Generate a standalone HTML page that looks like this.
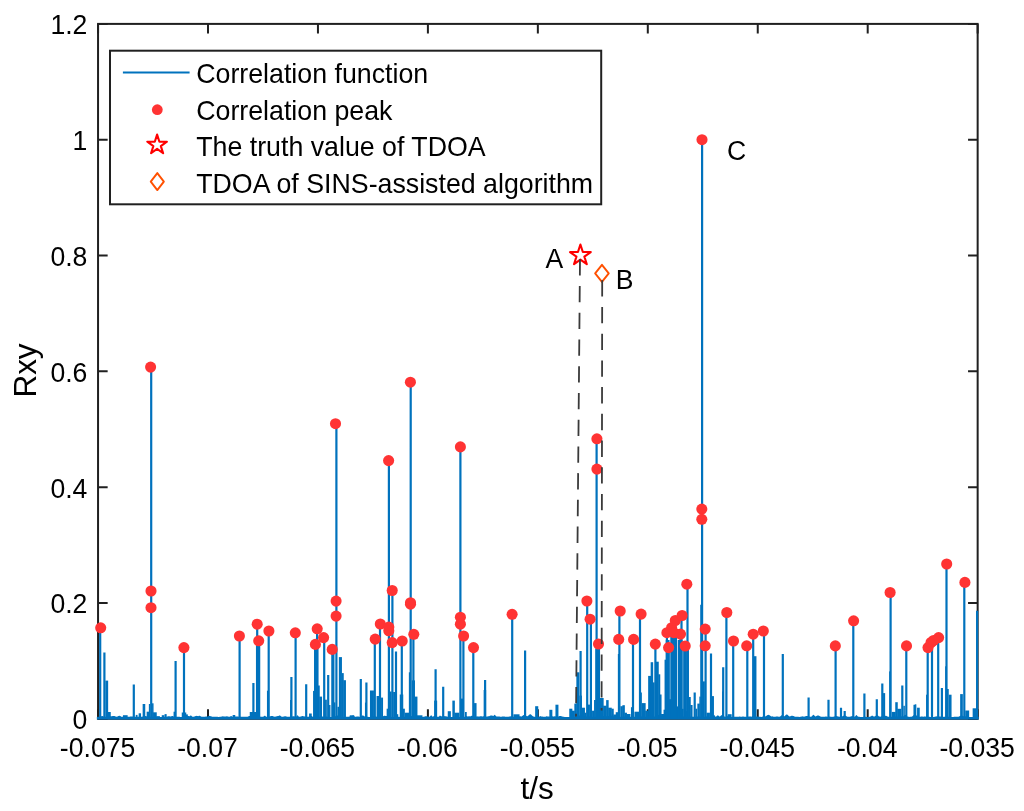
<!DOCTYPE html><html><head><meta charset="utf-8"><style>html,body{margin:0;padding:0;background:#fff;}svg{display:block}text{font-family:"Liberation Sans",Arial,sans-serif;fill:#000}</style></head><body>
<svg width="1024" height="811" viewBox="0 0 1024 811">
<rect width="1024" height="811" fill="#fff"/>
<g stroke="#202020" stroke-width="2" fill="none">
<rect x="98.05" y="23.90" width="879.60" height="694.90"/>
<path d="M98.05 718.80V709.20M98.05 23.90V33.50"/>
<path d="M208.00 718.80V709.20M208.00 23.90V33.50"/>
<path d="M317.95 718.80V709.20M317.95 23.90V33.50"/>
<path d="M427.90 718.80V709.20M427.90 23.90V33.50"/>
<path d="M537.85 718.80V709.20M537.85 23.90V33.50"/>
<path d="M647.80 718.80V709.20M647.80 23.90V33.50"/>
<path d="M757.75 718.80V709.20M757.75 23.90V33.50"/>
<path d="M867.70 718.80V709.20M867.70 23.90V33.50"/>
<path d="M977.65 718.80V709.20M977.65 23.90V33.50"/>
<path d="M98.05 718.80H107.65M977.65 718.80H968.05"/>
<path d="M98.05 602.98H107.65M977.65 602.98H968.05"/>
<path d="M98.05 487.17H107.65M977.65 487.17H968.05"/>
<path d="M98.05 371.35H107.65M977.65 371.35H968.05"/>
<path d="M98.05 255.53H107.65M977.65 255.53H968.05"/>
<path d="M98.05 139.72H107.65M977.65 139.72H968.05"/>
<path d="M98.05 23.90H107.65M977.65 23.90H968.05"/>
</g>
<g clip-path="url(#clip)">
<defs><clipPath id="clip"><rect x="96.85" y="23.90" width="882.00" height="695.90"/></clipPath></defs>
<polygon points="96.0,716.90 96.5,716.89 97.0,716.88 97.5,716.85 98.0,716.81 98.5,716.74 99.0,716.65 99.5,716.54 100.0,716.44 100.5,716.37 101.0,716.35 101.5,716.29 102.0,716.09 102.5,716.06 103.0,716.20 103.5,716.43 104.0,716.48 104.5,716.57 105.0,716.67 105.5,716.75 106.0,716.81 106.5,716.79 107.0,716.67 107.5,716.54 108.0,716.27 108.5,715.80 109.0,715.68 109.5,716.05 110.0,716.29 110.5,716.19 111.0,716.15 111.5,716.18 112.0,716.19 112.5,716.04 113.0,715.94 113.5,715.92 114.0,715.97 114.5,716.10 115.0,716.26 115.5,716.43 116.0,716.58 116.5,716.70 117.0,716.77 117.5,716.55 118.0,716.31 118.5,716.15 119.0,715.77 119.5,715.70 120.0,716.00 120.5,716.42 121.0,716.72 121.5,716.70 122.0,716.70 122.5,716.73 123.0,716.74 123.5,716.65 124.0,716.55 124.5,716.46 125.0,716.40 125.5,716.40 126.0,716.46 126.5,716.55 127.0,716.65 127.5,716.74 128.1,716.81 128.6,716.85 129.1,716.82 129.6,716.68 130.1,716.54 130.6,716.49 131.1,716.59 131.6,716.56 132.1,716.47 132.6,716.44 133.1,716.48 133.6,716.57 134.1,716.68 134.6,716.77 135.1,716.84 135.6,716.87 136.1,716.86 136.6,716.83 137.1,716.79 137.6,716.75 138.1,716.71 138.6,716.68 139.1,716.67 139.6,716.68 140.1,716.68 140.6,716.62 141.1,716.70 141.6,716.78 142.1,716.70 142.6,716.58 143.1,716.42 143.6,716.25 144.1,716.10 144.6,715.99 145.1,715.96 145.6,716.01 146.1,716.13 146.6,716.29 147.1,716.45 147.6,716.60 148.1,716.72 148.6,716.61 149.1,716.53 149.6,716.50 150.1,716.55 150.6,716.65 151.1,716.75 151.6,716.82 152.1,716.72 152.6,716.65 153.1,716.69 153.6,716.79 154.1,716.85 154.6,716.77 155.1,716.73 155.6,716.79 156.1,716.85 156.6,716.80 157.1,716.75 157.6,716.76 158.1,716.80 158.6,716.85 159.1,716.89 159.6,716.90 160.1,716.90 160.6,716.90 161.1,716.90 161.6,716.90 162.1,716.90 162.6,716.90 163.1,716.90 163.6,716.90 164.1,716.89 164.6,716.88 165.1,716.86 165.6,716.82 166.1,716.76 166.6,716.67 167.1,716.56 167.6,716.44 168.1,716.33 168.6,716.26 169.1,716.24 169.6,716.29 170.1,716.38 170.6,716.46 171.1,716.31 171.6,716.14 172.1,716.05 172.6,716.07 173.1,716.20 173.6,716.39 174.1,716.58 174.6,716.73 175.1,716.77 175.6,716.70 176.1,716.76 176.6,716.85 177.1,716.78 177.6,716.69 178.1,716.63 178.6,716.65 179.1,716.74 179.6,716.82 180.1,716.88 180.6,716.89 181.1,716.90 181.6,716.90 182.1,716.90 182.6,716.90 183.1,716.90 183.6,716.89 184.1,716.84 184.6,716.71 185.1,716.46 185.6,716.21 186.1,716.16 186.6,716.35 187.1,716.23 187.6,715.92 188.1,715.91 188.6,715.99 189.1,716.22 189.6,716.28 190.1,715.77 190.6,715.45 191.1,715.59 191.6,716.06 192.1,716.52 192.6,716.72 193.1,716.78 193.6,716.74 194.1,716.62 194.6,716.45 195.1,716.25 195.6,716.05 196.1,715.91 196.6,715.86 197.1,715.91 197.6,716.06 198.1,716.26 198.6,716.02 199.1,715.86 199.6,715.87 200.1,716.04 200.6,716.30 201.1,716.54 201.6,716.72 202.1,716.83 202.6,716.87 203.1,716.85 203.6,716.81 204.1,716.75 204.6,716.69 205.1,716.63 205.6,716.58 206.1,716.56 206.6,716.58 207.1,716.62 207.6,716.60 208.1,716.25 208.6,715.89 209.1,715.80 209.6,716.05 210.1,716.11 210.6,716.19 211.1,716.37 211.6,716.58 212.1,716.74 212.6,716.76 213.1,716.80 213.6,716.79 214.1,716.76 214.6,716.75 215.1,716.76 215.6,716.77 216.1,716.80 216.6,716.83 217.1,716.85 217.6,716.87 218.1,716.89 218.6,716.89 219.1,716.89 219.6,716.87 220.1,716.84 220.6,716.76 221.1,716.65 221.6,716.52 222.1,716.38 222.6,716.30 223.1,716.30 223.6,716.39 224.1,716.52 224.6,716.56 225.1,716.55 225.6,716.58 226.1,716.47 226.6,716.35 227.1,716.35 227.6,716.46 228.1,716.62 228.6,716.76 229.1,716.80 229.6,716.77 230.1,716.54 230.6,716.22 231.1,716.08 231.6,716.27 232.1,716.60 232.6,716.75 233.1,716.66 233.6,716.57 234.1,716.49 234.6,716.45 235.1,716.47 235.6,716.53 236.1,716.52 236.6,716.50 237.1,716.51 237.6,716.55 238.1,716.61 238.6,716.68 239.1,716.61 239.6,716.56 240.1,716.59 240.6,716.69 241.1,716.79 241.6,716.74 242.1,716.71 242.6,716.74 243.1,716.80 243.6,716.78 244.1,716.75 244.6,716.72 245.1,716.70 245.6,716.71 246.1,716.72 246.6,716.76 247.1,716.79 247.6,716.69 248.1,716.52 248.6,716.31 249.1,716.12 249.6,716.03 250.1,716.07 250.6,716.23 251.1,716.44 251.6,716.63 252.1,716.77 252.6,716.77 253.1,716.69 253.6,716.59 254.1,716.49 254.6,716.41 255.1,716.38 255.6,716.41 256.1,716.48 256.6,716.58 257.1,716.68 257.6,716.69 258.1,716.61 258.6,716.54 259.1,716.51 259.6,716.53 260.1,716.60 260.6,716.69 261.1,716.77 261.6,716.83 262.1,716.82 262.6,716.81 263.1,716.81 263.6,716.58 264.1,716.08 264.6,715.66 265.1,715.79 265.6,716.31 266.1,716.71 266.6,716.85 267.1,716.87 267.6,716.84 268.1,716.79 268.6,716.71 269.1,716.59 269.6,716.45 270.1,716.29 270.6,716.14 271.1,716.03 271.6,715.98 272.1,716.00 272.6,716.10 273.1,716.24 273.6,716.40 274.1,716.55 274.6,716.67 275.1,716.72 275.6,716.60 276.1,716.45 276.6,716.29 277.1,716.15 277.6,716.07 278.1,716.07 278.6,716.04 279.1,715.62 279.6,715.40 280.1,715.51 280.6,715.88 281.1,716.31 281.6,716.63 282.1,716.76 282.6,716.69 283.1,716.65 283.6,716.54 284.1,716.41 284.6,716.32 285.1,716.29 285.6,716.35 286.1,716.46 286.6,716.59 287.1,716.71 287.6,716.80 288.1,716.85 288.6,716.84 289.1,716.80 289.6,716.71 290.1,716.58 290.6,716.45 291.1,716.37 291.6,716.34 292.1,716.27 292.6,716.39 293.1,716.23 293.6,716.20 294.1,716.32 294.6,716.49 295.1,716.30 295.6,716.29 296.1,716.48 296.6,716.40 297.1,715.60 297.6,715.20 298.1,715.80 298.6,716.54 299.1,716.84 299.6,716.79 300.1,716.72 300.6,716.62 301.1,716.46 301.6,716.14 302.1,715.98 302.6,716.11 303.1,716.27 303.6,716.24 304.1,716.29 304.6,716.39 305.1,716.52 305.6,716.65 306.1,716.75 306.6,716.82 307.1,716.77 307.6,716.66 308.1,716.67 308.6,716.67 309.1,716.60 309.6,716.56 310.1,716.41 310.6,716.12 311.1,715.97 311.6,716.07 312.1,716.35 312.6,716.63 313.1,716.77 313.6,716.81 314.1,716.84 314.6,716.84 315.1,716.80 315.6,716.78 316.1,716.77 316.6,716.76 317.1,716.77 317.6,716.80 318.1,716.83 318.6,716.82 319.1,716.76 319.6,716.67 320.1,716.56 320.6,716.46 321.1,716.39 321.6,716.37 322.1,716.42 322.6,716.51 323.1,716.62 323.6,716.72 324.1,716.80 324.6,716.80 325.1,716.73 325.6,716.66 326.1,716.60 326.6,716.60 327.1,716.63 327.6,716.70 328.1,716.78 328.6,716.83 329.1,716.87 329.6,716.88 330.1,716.88 330.6,716.88 331.1,716.88 331.6,716.88 332.1,716.88 332.6,716.86 333.1,716.80 333.6,716.74 334.1,716.66 334.6,716.62 335.1,716.39 335.6,716.08 336.1,715.76 336.6,715.50 337.1,715.41 337.6,715.51 338.1,715.77 338.6,716.10 339.1,716.41 339.6,716.63 340.1,716.78 340.6,716.85 341.1,716.88 341.6,716.89 342.1,716.90 342.6,716.90 343.1,716.90 343.6,716.88 344.1,716.85 344.6,716.80 345.1,716.75 345.6,716.74 346.1,716.78 346.6,716.78 347.1,716.73 347.6,716.71 348.1,716.72 348.6,716.63 349.1,716.53 349.6,716.53 350.1,716.64 350.6,716.76 351.1,716.73 351.6,716.47 352.1,716.05 352.6,715.62 353.1,715.41 353.6,715.55 354.1,715.96 354.6,716.40 355.1,716.69 355.6,716.71 356.1,716.64 356.6,716.59 357.1,716.55 357.6,716.54 358.1,716.56 358.6,716.60 359.1,716.66 359.6,716.73 360.1,716.74 360.6,716.55 361.1,716.26 361.6,715.90 362.1,715.57 362.6,715.41 363.1,715.47 363.6,715.74 364.1,716.10 364.6,716.43 365.1,716.61 365.6,716.62 366.1,716.66 366.6,716.72 367.1,716.78 367.6,716.83 368.1,716.87 368.6,716.89 369.1,716.89 369.6,716.89 370.1,716.88 370.6,716.86 371.1,716.81 371.6,716.73 372.1,716.60 372.6,716.43 373.1,716.26 373.6,716.13 374.1,716.09 374.6,716.14 375.1,716.28 375.6,716.45 376.1,716.61 376.6,716.74 377.1,716.82 377.6,716.87 378.1,716.89 378.6,716.90 379.1,716.89 379.6,716.88 380.1,716.86 380.6,716.82 381.1,716.75 381.6,716.65 382.1,716.50 382.6,716.32 383.1,716.13 383.6,715.95 384.1,715.82 384.6,715.77 385.1,715.81 385.6,715.93 386.1,715.94 386.6,715.90 387.1,716.10 387.6,716.42 388.1,716.68 388.6,716.74 389.1,716.76 389.6,716.78 390.1,716.81 390.6,716.84 391.1,716.86 391.6,716.88 392.1,716.89 392.6,716.89 393.1,716.89 393.6,716.88 394.1,716.86 394.6,716.82 395.1,716.78 395.6,716.74 396.1,716.71 396.6,716.71 397.1,716.74 397.6,716.78 398.1,716.82 398.6,716.86 399.1,716.88 399.6,716.86 400.1,716.72 400.6,716.40 401.1,716.04 401.6,715.96 402.1,716.26 402.6,716.62 403.1,716.82 403.6,716.86 404.1,716.84 404.6,716.79 405.1,716.74 405.6,716.68 406.1,716.62 406.6,716.57 407.1,716.55 407.6,716.56 408.1,716.59 408.6,716.64 409.1,716.70 409.6,716.60 410.1,716.46 410.6,716.29 411.1,716.14 411.6,716.02 412.1,715.95 412.6,715.96 413.1,716.05 413.6,715.87 414.1,716.02 414.6,716.41 415.1,716.19 415.6,716.17 416.1,716.45 416.6,716.67 417.1,716.75 417.6,716.81 418.1,716.85 418.6,716.78 419.1,716.52 419.6,716.27 420.1,716.34 420.6,716.63 421.1,716.83 421.6,716.89 422.1,716.89 422.6,716.86 423.1,716.82 423.6,716.75 424.1,716.64 424.6,716.49 425.1,716.34 425.6,716.23 426.1,716.17 426.6,716.20 427.1,716.31 427.6,716.45 428.1,716.60 428.6,716.72 429.1,716.70 429.6,716.66 430.1,716.28 430.6,715.69 431.1,715.36 431.6,715.62 432.1,716.20 432.6,716.65 433.1,716.53 433.6,716.31 434.1,716.11 434.6,716.03 435.1,716.11 435.6,716.31 436.1,716.53 436.6,716.66 437.1,716.69 437.6,716.73 438.1,716.77 438.6,716.79 439.1,716.41 439.6,715.71 440.1,715.43 440.6,715.97 441.1,716.16 441.6,716.37 442.1,716.39 442.6,716.25 443.1,716.14 443.6,716.07 444.1,716.07 444.6,716.13 445.1,716.15 445.6,716.17 446.1,716.26 446.6,716.38 447.1,716.52 447.6,716.65 448.1,716.75 448.6,716.81 449.1,716.86 449.6,716.88 450.1,716.89 450.6,716.90 451.1,716.90 451.6,716.90 452.1,716.90 452.6,716.89 453.1,716.86 453.6,716.81 454.1,716.79 454.6,716.82 455.1,716.86 455.6,716.89 456.1,716.90 456.6,716.90 457.1,716.90 457.6,716.90 458.1,716.90 458.6,716.90 459.1,716.90 459.6,716.90 460.1,716.90 460.6,716.90 461.1,716.90 461.6,716.90 462.1,716.90 462.6,716.90 463.1,716.90 463.6,716.89 464.1,716.87 464.6,716.81 465.1,716.66 465.6,716.44 466.1,716.20 466.6,716.08 467.1,716.16 467.6,716.38 468.1,716.51 468.6,716.30 469.1,716.21 469.6,716.30 470.1,716.50 470.6,716.34 471.1,716.08 471.6,715.85 472.1,715.74 472.6,715.78 473.1,715.97 473.6,716.23 474.1,716.48 474.6,716.67 475.1,716.79 475.6,716.80 476.1,716.60 476.6,716.38 477.1,716.37 477.6,716.59 478.1,716.49 478.6,716.41 479.1,716.58 479.6,716.46 480.1,716.36 480.6,716.29 481.1,716.29 481.6,716.34 482.1,716.44 482.6,716.48 483.1,716.35 483.6,716.26 484.1,716.22 484.6,716.27 485.1,716.37 485.6,716.50 486.1,716.63 486.6,716.59 487.1,716.49 487.6,716.40 488.1,716.35 488.6,716.34 489.1,716.33 489.6,716.07 490.1,715.81 490.6,715.58 491.1,715.43 491.6,715.39 492.1,715.49 492.6,715.68 493.1,715.93 493.6,715.85 494.1,715.17 494.6,714.80 495.1,715.01 495.6,715.64 496.1,716.28 496.6,716.60 497.1,716.61 497.6,716.57 498.1,716.51 498.6,716.49 499.1,716.53 499.6,716.61 500.1,716.69 500.6,716.72 501.1,716.64 501.6,716.65 502.1,716.59 502.6,716.54 503.1,716.52 503.6,716.53 504.1,716.56 504.6,716.62 505.1,716.69 505.6,716.75 506.1,716.80 506.6,716.84 507.1,716.80 507.6,716.70 508.1,716.67 508.6,716.72 509.1,716.62 509.6,716.50 510.1,716.39 510.6,716.31 511.1,716.28 511.6,716.32 512.0,716.40 512.5,716.52 513.0,716.63 513.5,716.73 514.0,716.80 514.5,716.81 515.0,716.68 515.5,716.55 516.0,716.56 516.5,716.52 517.0,716.38 517.5,716.24 518.0,716.14 518.5,716.10 519.0,716.14 519.5,716.21 520.0,716.20 520.5,716.28 521.0,716.42 521.5,716.44 522.0,716.16 522.5,715.81 523.0,715.44 523.5,715.12 524.0,714.93 524.5,714.90 525.0,715.05 525.5,715.34 526.0,715.71 526.5,716.06 527.0,716.37 527.5,716.26 528.0,715.87 528.5,715.39 529.0,714.90 529.5,714.49 530.0,714.26 530.5,714.28 531.0,714.54 531.5,714.97 532.0,715.47 532.5,715.94 533.0,716.31 533.5,716.58 534.0,716.74 534.5,716.83 535.0,716.87 535.5,716.88 536.0,716.89 536.5,716.89 537.0,716.88 537.5,716.86 538.0,716.82 538.5,716.76 539.0,716.68 539.5,716.59 540.0,716.26 540.5,716.12 541.0,716.38 541.5,716.40 542.0,716.46 542.5,716.55 543.0,716.65 543.5,716.74 544.0,716.76 544.5,716.75 545.0,716.75 545.5,716.77 546.0,716.49 546.5,716.19 547.0,716.20 547.5,716.51 548.0,716.50 548.5,716.47 549.0,716.50 549.5,716.57 550.0,716.67 550.5,716.69 551.0,716.41 551.5,716.29 552.0,716.37 552.5,716.31 553.0,716.51 553.5,716.55 554.0,716.41 554.5,716.33 555.0,716.34 555.5,716.43 556.0,716.26 556.5,715.88 557.0,715.78 557.5,716.05 558.0,716.46 558.5,716.39 559.0,716.25 559.5,716.09 560.0,715.99 560.5,715.98 561.0,716.08 561.5,716.24 562.0,716.43 562.5,716.60 563.0,716.73 563.5,716.81 564.0,716.86 564.5,716.88 565.0,716.89 565.5,716.90 566.0,716.90 566.5,716.90 567.0,716.90 567.5,716.90 568.0,716.90 568.5,716.90 569.0,716.90 569.5,716.90 570.0,716.90 570.5,716.90 571.0,716.90 571.5,716.90 572.0,716.90 572.5,716.90 573.0,716.90 573.5,716.90 574.0,716.90 574.5,716.90 575.0,716.90 575.5,716.90 576.0,716.90 576.5,716.89 577.0,716.86 577.5,716.79 578.0,716.66 578.5,716.41 579.0,716.03 579.5,715.54 580.0,715.01 580.5,714.57 581.0,714.36 581.5,714.45 582.0,714.81 582.5,715.32 583.0,715.85 583.5,716.28 584.0,716.31 584.5,716.05 585.0,715.91 585.5,715.96 586.0,716.18 586.5,716.46 587.0,716.68 587.5,716.67 588.0,716.55 588.5,716.44 589.0,716.37 589.5,716.37 590.0,716.43 590.5,716.54 591.0,716.65 591.5,716.75 592.0,716.70 592.5,716.69 593.0,716.72 593.5,716.79 594.0,716.84 594.5,716.87 595.0,716.86 595.5,716.85 596.0,716.84 596.5,716.78 597.0,716.72 597.5,716.66 598.0,716.47 598.5,716.29 599.0,716.21 599.5,716.27 600.0,716.44 600.5,716.63 601.0,716.74 601.5,716.59 602.0,716.37 602.5,716.14 603.0,715.99 603.5,715.99 604.0,716.13 604.5,716.35 605.0,716.58 605.5,716.58 606.0,716.42 606.5,716.24 607.0,716.07 607.5,715.94 608.0,715.89 608.5,715.92 609.0,716.03 609.5,715.92 610.0,715.59 610.5,715.40 611.0,715.42 611.5,715.64 612.0,715.98 612.5,716.28 613.0,716.44 613.5,716.35 614.0,716.28 614.5,716.54 615.0,716.79 615.5,716.79 616.0,716.65 616.5,716.47 617.0,716.31 617.5,716.27 618.0,716.38 618.5,716.56 619.0,716.73 619.5,716.83 620.0,716.88 620.5,716.85 621.0,716.79 621.5,716.71 622.0,716.64 622.5,716.62 623.0,716.67 623.5,716.75 624.0,716.64 624.5,716.41 625.0,716.21 625.5,716.18 626.0,716.33 626.5,716.56 627.0,716.75 627.5,716.85 628.0,716.89 628.5,716.90 629.0,716.90 629.5,716.89 630.0,716.88 630.5,716.85 631.0,716.78 631.5,716.69 632.0,716.59 632.5,716.51 633.0,716.49 633.5,716.54 634.0,716.64 634.5,716.74 635.0,716.82 635.5,716.87 636.0,716.88 636.5,716.84 637.0,716.77 637.5,716.70 638.0,716.65 638.5,716.67 639.0,716.59 639.5,716.45 640.0,716.34 640.5,716.31 641.0,716.36 641.5,716.48 642.0,716.61 642.5,716.73 643.0,716.82 643.5,716.85 644.0,716.79 644.5,716.71 645.0,716.66 645.5,716.66 646.0,716.71 646.5,716.71 647.0,716.55 647.5,716.39 648.0,716.32 648.5,716.39 649.0,716.43 649.5,716.26 650.0,716.15 650.5,715.89 651.0,715.65 651.5,715.51 652.0,715.49 652.5,715.60 653.0,715.82 653.5,716.08 654.0,716.34 654.5,716.55 655.0,716.70 655.5,716.69 656.0,716.46 656.5,716.11 657.0,715.66 657.5,715.21 658.0,714.91 658.5,714.86 659.0,715.08 659.5,715.49 660.0,715.95 660.5,716.35 661.0,716.35 661.5,716.07 662.0,715.85 662.5,715.76 663.0,715.85 663.5,716.08 664.0,716.35 664.5,716.59 665.0,716.61 665.5,716.32 666.0,715.89 666.5,715.41 667.0,715.05 667.5,714.95 668.0,715.16 668.5,715.59 669.0,716.06 669.5,716.44 670.0,716.65 670.5,716.50 671.0,716.34 671.5,716.19 672.0,716.09 672.5,716.07 673.0,716.14 673.5,716.27 674.0,716.43 674.5,716.59 675.0,716.71 675.5,716.80 676.0,716.81 676.5,716.72 677.0,716.59 677.5,716.44 678.0,716.27 678.5,716.14 679.0,716.09 679.5,716.13 680.0,716.24 680.5,716.40 681.0,716.56 681.5,716.44 682.0,716.22 682.5,716.14 683.0,716.27 683.5,716.51 684.0,716.72 684.5,716.84 685.0,716.88 685.5,716.88 686.0,716.86 686.5,716.86 687.0,716.88 687.5,716.89 688.0,716.88 688.5,716.85 689.0,716.80 689.5,716.74 690.0,716.66 690.5,716.58 691.0,716.53 691.5,716.53 692.0,716.58 692.5,716.65 693.0,716.73 693.5,716.80 694.0,716.85 694.5,716.86 695.0,716.83 695.5,716.79 696.0,716.73 696.5,716.65 697.0,716.58 697.5,716.51 698.0,716.46 698.5,716.45 699.0,716.48 699.5,716.53 700.0,716.61 700.5,716.68 701.0,716.75 701.5,716.81 702.0,716.85 702.5,716.87 703.0,716.89 703.5,716.88 704.0,716.85 704.5,716.80 705.0,716.73 705.5,716.62 706.0,716.51 706.5,716.40 707.0,716.34 707.5,716.34 708.0,716.41 708.5,716.51 709.0,716.63 709.5,716.73 710.0,716.81 710.5,716.76 711.0,716.73 711.5,716.72 712.0,716.65 712.5,716.66 713.0,716.34 713.5,715.48 714.0,714.84 714.5,715.18 715.0,716.07 715.5,716.67 716.0,716.66 716.5,716.32 717.0,715.83 717.5,715.43 718.0,715.37 718.5,715.71 719.0,716.20 719.5,716.59 720.0,716.42 720.5,716.05 721.0,715.62 721.5,715.24 722.0,715.06 722.5,715.15 723.0,715.48 723.5,715.91 724.0,716.31 724.5,716.60 725.0,716.77 725.5,716.85 726.0,716.84 726.5,716.70 727.0,716.41 727.5,715.99 728.0,715.62 728.5,715.55 729.0,715.82 729.5,716.24 730.0,716.60 730.5,716.80 731.0,716.87 731.5,716.89 732.0,716.90 732.5,716.89 733.0,716.89 733.5,716.87 734.0,716.84 734.5,716.81 735.0,716.79 735.5,716.77 736.0,716.78 736.5,716.80 737.0,716.81 737.5,716.77 738.0,716.73 738.5,716.69 739.0,716.65 739.5,716.54 740.0,716.59 740.5,716.69 741.0,716.73 741.5,716.72 742.0,716.65 742.5,716.59 743.0,716.57 743.5,716.59 744.0,716.65 744.5,716.72 745.0,716.79 745.5,716.84 746.0,716.87 746.5,716.88 747.0,716.85 747.5,716.80 748.0,716.71 748.5,716.60 749.0,716.49 749.5,716.42 750.0,716.42 750.5,716.49 751.0,716.61 751.5,716.68 752.0,716.53 752.5,716.30 753.0,716.09 753.5,716.02 754.0,716.11 754.5,716.33 755.0,716.56 755.5,716.74 756.0,716.68 756.5,716.61 757.0,716.55 757.5,716.54 758.0,716.57 758.5,716.63 759.0,716.71 759.5,716.78 760.0,716.83 760.5,716.87 761.0,716.89 761.5,716.89 762.0,716.85 762.5,716.69 763.0,716.27 763.5,715.68 764.0,715.40 764.5,715.72 765.0,716.31 765.5,716.40 766.0,716.12 766.5,715.79 767.0,715.44 767.5,715.12 768.0,714.92 768.5,714.86 769.0,714.97 769.5,715.22 770.0,715.55 770.5,715.91 771.0,716.22 771.5,716.48 772.0,716.53 772.5,716.33 773.0,716.40 773.5,716.66 774.0,716.83 774.5,716.85 775.0,716.80 775.5,716.71 776.0,716.61 776.5,716.53 777.0,716.50 777.5,716.53 778.0,716.61 778.5,716.71 779.0,716.75 779.5,716.66 780.0,716.50 780.5,716.15 781.0,715.72 781.5,715.35 782.0,715.20 782.5,715.34 783.0,715.70 783.5,716.13 784.0,716.34 784.5,716.17 785.0,715.72 785.5,715.22 786.0,714.77 786.5,714.52 787.0,714.55 787.5,714.84 788.0,715.31 788.5,715.81 789.0,716.24 789.5,716.54 790.0,716.35 790.5,716.15 791.0,715.95 791.5,715.80 792.0,715.75 792.5,715.79 793.0,715.93 793.5,716.12 794.0,716.33 794.5,716.52 795.0,716.67 795.5,716.77 796.0,716.83 796.5,716.84 797.0,716.76 797.5,716.71 798.0,716.75 798.5,716.83 799.0,716.88 799.5,716.89 800.0,716.86 800.5,716.80 801.0,716.68 801.5,716.53 802.0,716.40 802.5,716.36 803.0,716.44 803.5,716.59 804.0,716.63 804.5,716.54 805.0,716.45 805.5,716.29 806.0,716.10 806.5,715.97 807.0,715.91 807.5,715.95 808.0,716.09 808.5,716.27 809.0,716.46 809.5,716.62 810.0,716.66 810.5,716.67 811.0,716.70 811.5,716.59 812.0,716.24 812.5,715.56 813.0,714.89 813.5,714.64 814.0,715.00 814.5,715.71 815.0,716.34 815.5,716.58 816.0,716.37 816.5,716.11 817.0,715.84 817.5,715.62 818.0,715.51 818.5,715.53 819.0,715.69 819.5,715.94 820.0,716.21 820.5,716.45 821.0,716.64 821.5,716.74 822.0,716.76 822.5,716.75 823.0,716.70 823.5,716.67 824.0,716.68 824.5,716.71 825.0,716.71 825.5,716.62 826.0,716.57 826.5,716.60 827.0,716.68 827.5,716.74 828.0,716.77 828.5,716.76 829.0,716.65 829.5,716.57 830.0,716.58 830.5,716.68 831.0,716.79 831.5,716.86 832.0,716.89 832.5,716.86 833.0,716.81 833.5,716.72 834.0,716.59 834.5,716.41 835.0,716.21 835.5,716.06 836.0,715.99 836.5,716.02 837.0,716.16 837.5,716.34 838.0,716.52 838.5,716.57 839.0,716.64 839.5,716.71 840.0,716.78 840.5,716.82 841.0,716.77 841.5,716.65 842.0,716.48 842.5,716.25 843.0,715.99 843.5,715.74 844.0,715.57 844.5,715.50 845.0,715.56 845.5,715.74 846.0,715.99 846.5,716.25 847.0,716.48 847.5,716.65 848.0,716.77 848.5,716.83 849.0,716.87 849.5,716.83 850.0,716.74 850.5,716.60 851.0,716.42 851.5,716.23 852.0,716.10 852.5,716.10 853.0,716.21 853.5,716.39 854.0,716.58 854.5,716.73 855.0,716.55 855.5,715.96 856.0,715.24 856.5,714.97 857.0,715.43 857.5,716.17 858.0,716.58 858.5,716.69 859.0,716.79 859.5,716.85 860.0,716.88 860.5,716.89 861.0,716.90 861.5,716.90 862.0,716.90 862.5,716.89 863.0,716.88 863.5,716.84 864.0,716.78 864.5,716.73 865.0,716.73 865.5,716.78 866.0,716.83 866.5,716.88 867.0,716.89 867.5,716.90 868.0,716.90 868.5,716.89 869.0,716.88 869.5,716.87 870.0,716.80 870.5,716.62 871.0,716.29 871.5,715.88 872.0,715.60 872.5,715.64 873.0,715.97 873.5,716.38 874.0,716.60 874.5,716.57 875.0,716.37 875.5,715.96 876.0,715.49 876.5,715.10 877.0,714.96 877.5,715.13 878.0,715.53 878.5,716.01 879.0,716.41 879.5,716.53 880.0,716.59 880.5,716.67 881.0,716.51 881.5,716.33 882.0,716.19 882.5,716.08 883.0,715.67 883.5,715.59 884.0,715.93 884.5,716.19 885.0,715.97 885.5,715.84 886.0,715.85 886.5,715.99 887.0,716.22 887.5,716.45 888.0,716.64 888.5,716.77 889.0,716.78 889.5,716.81 890.0,716.83 890.5,716.86 891.0,716.87 891.5,716.85 892.0,716.75 892.5,716.50 893.0,716.23 893.5,716.17 894.0,716.38 894.5,716.66 895.0,716.53 895.5,716.41 896.0,716.34 896.5,716.33 897.0,716.40 897.5,716.51 898.0,716.64 898.5,716.74 899.0,716.63 899.5,716.45 900.0,716.28 900.5,716.19 901.0,716.23 901.5,716.36 902.0,716.54 902.5,716.70 903.0,716.53 903.5,716.16 904.0,715.66 904.5,715.16 905.0,714.84 905.5,714.86 906.0,715.20 906.5,715.71 907.0,716.20 907.5,716.56 908.0,716.76 908.5,716.84 909.0,716.87 909.5,716.88 910.0,716.86 910.5,716.82 911.0,716.76 911.5,716.67 912.0,716.47 912.5,716.17 913.0,715.78 913.5,715.34 914.0,714.95 914.5,714.67 915.0,714.60 915.5,714.75 916.0,715.08 916.5,715.51 917.0,715.93 917.5,716.29 918.0,716.55 918.5,716.72 919.0,716.82 919.5,716.86 920.0,716.85 920.5,716.74 921.0,716.55 921.5,716.41 922.0,716.45 922.5,716.62 923.0,716.78 923.5,716.70 924.0,716.62 924.5,716.56 925.0,716.56 925.5,716.61 926.0,716.70 926.5,716.78 927.0,716.84 927.5,716.87 928.0,716.81 928.5,716.77 929.0,716.79 929.5,716.84 930.0,716.88 930.5,716.90 931.0,716.90 931.5,716.90 932.0,716.90 932.5,716.90 933.0,716.90 933.5,716.90 934.0,716.88 934.5,716.83 935.0,716.73 935.5,716.57 936.0,716.42 936.5,716.37 937.0,716.46 937.5,716.62 938.0,716.77 938.5,716.66 939.0,716.48 939.5,716.38 940.0,716.44 940.5,716.60 941.0,716.76 941.5,716.85 942.0,716.89 942.5,716.89 943.0,716.88 943.5,716.87 944.0,716.85 944.5,716.82 945.0,716.80 945.5,716.78 946.0,716.76 946.5,716.77 947.0,716.78 947.5,716.81 948.0,716.83 948.5,716.86 949.0,716.87 949.5,716.89 950.0,716.89 950.5,716.90 951.0,716.90 951.5,716.90 952.0,716.90 952.5,716.89 953.0,716.89 953.5,716.89 954.0,716.85 954.5,716.80 955.0,716.79 955.5,716.83 956.0,716.87 956.5,716.87 957.0,716.87 957.5,716.83 958.0,716.75 958.5,716.64 959.0,716.46 959.5,716.24 960.0,716.00 960.5,715.76 961.0,715.59 961.5,715.52 962.0,715.58 962.5,715.74 963.0,715.97 963.5,716.22 964.0,716.26 964.5,716.23 965.0,716.27 965.5,716.37 966.0,716.50 966.5,716.63 967.0,716.73 967.5,716.81 968.0,716.86 968.5,716.88 969.0,716.89 969.5,716.90 970.0,716.90 970.5,716.90 971.0,716.90 971.5,716.90 972.0,716.90 972.5,716.90 973.0,716.90 973.5,716.88 974.0,716.81 974.5,716.68 975.0,716.51 975.5,716.46 976.0,716.51 976.5,716.46 977.0,716.50 977.5,716.60 978.0,716.72 978.5,716.82 979.0,716.87 979.5,716.89 979.5,719.7 96.0,719.7" fill="#0072BD"/>
<g fill="#0072BD"><rect x="105.35" y="680.6" width="2.80" height="38.2"/><rect x="107.65" y="712.0" width="3.10" height="6.8"/><rect x="117.95" y="716.2" width="2.80" height="2.6"/><rect x="122.95" y="715.2" width="4.70" height="3.6"/><rect x="135.75" y="714.9" width="1.80" height="3.9"/><rect x="138.65" y="713.3" width="2.40" height="5.5"/><rect x="142.65" y="704.0" width="2.60" height="14.8"/><rect x="146.65" y="711.7" width="2.70" height="7.1"/><rect x="148.85" y="704.0" width="1.50" height="14.8"/><rect x="152.05" y="703.3" width="1.50" height="15.5"/><rect x="153.05" y="712.3" width="3.70" height="6.5"/><rect x="156.25" y="716.2" width="3.70" height="2.6"/><rect x="161.75" y="715.2" width="2.70" height="3.6"/><rect x="164.55" y="714.1" width="2.10" height="4.7"/><rect x="173.55" y="711.7" width="1.80" height="7.1"/><rect x="181.75" y="712.5" width="4.50" height="6.3"/><rect x="185.75" y="714.4" width="2.10" height="4.4"/><rect x="232.65" y="715.0" width="2.60" height="3.8"/><rect x="249.75" y="712.0" width="6.50" height="6.8"/><rect x="255.95" y="641.0" width="4.30" height="77.8"/><rect x="266.95" y="690.7" width="1.70" height="28.1"/><rect x="290.05" y="700.0" width="1.20" height="18.8"/><rect x="309.05" y="713.5" width="2.70" height="5.3"/><rect x="313.05" y="690.9" width="1.50" height="27.9"/><rect x="314.05" y="646.0" width="4.40" height="72.8"/><rect x="317.95" y="685.5" width="1.80" height="33.3"/><rect x="319.25" y="696.6" width="2.80" height="22.2"/><rect x="325.05" y="699.7" width="1.80" height="19.1"/><rect x="329.05" y="705.0" width="1.40" height="13.8"/><rect x="331.25" y="650.0" width="3.20" height="68.8"/><rect x="333.95" y="702.4" width="1.40" height="16.4"/><rect x="337.45" y="706.8" width="1.90" height="12.0"/><rect x="338.85" y="657.1" width="3.10" height="61.7"/><rect x="341.45" y="673.1" width="2.30" height="45.7"/><rect x="343.25" y="680.2" width="2.70" height="38.6"/><rect x="349.75" y="715.3" width="4.50" height="3.5"/><rect x="364.95" y="702.6" width="1.50" height="16.2"/><rect x="369.95" y="690.5" width="4.00" height="28.3"/><rect x="376.55" y="696.0" width="2.50" height="22.8"/><rect x="381.05" y="697.6" width="2.00" height="21.2"/><rect x="386.65" y="708.7" width="2.00" height="10.1"/><rect x="389.65" y="691.5" width="2.00" height="27.3"/><rect x="393.15" y="692.0" width="2.10" height="26.8"/><rect x="396.75" y="714.2" width="1.50" height="4.6"/><rect x="399.75" y="694.5" width="3.50" height="24.3"/><rect x="402.75" y="708.7" width="2.10" height="10.1"/><rect x="404.75" y="712.7" width="4.50" height="6.1"/><rect x="408.85" y="672.3" width="1.90" height="46.5"/><rect x="411.85" y="680.4" width="3.10" height="38.4"/><rect x="414.45" y="696.6" width="3.00" height="22.2"/><rect x="416.95" y="715.3" width="5.50" height="3.5"/><rect x="434.15" y="700.6" width="3.00" height="18.2"/><rect x="447.75" y="711.2" width="3.10" height="7.6"/><rect x="452.35" y="700.6" width="2.50" height="18.2"/><rect x="454.35" y="712.7" width="5.00" height="6.1"/><rect x="460.25" y="698.6" width="3.30" height="20.2"/><rect x="464.95" y="712.0" width="1.80" height="6.8"/><rect x="474.05" y="703.1" width="2.50" height="15.7"/><rect x="483.65" y="690.0" width="2.50" height="28.8"/><rect x="513.45" y="714.3" width="6.10" height="4.5"/><rect x="535.15" y="706.2" width="3.10" height="12.6"/><rect x="549.35" y="709.8" width="3.00" height="9.0"/><rect x="555.45" y="704.7" width="3.00" height="14.1"/><rect x="569.25" y="708.7" width="3.10" height="10.1"/><rect x="571.85" y="710.7" width="3.00" height="8.1"/><rect x="574.35" y="703.6" width="2.50" height="15.2"/><rect x="576.35" y="672.3" width="3.00" height="46.5"/><rect x="579.35" y="695.6" width="2.60" height="23.2"/><rect x="581.45" y="707.7" width="3.50" height="11.1"/><rect x="584.45" y="712.7" width="2.00" height="6.1"/><rect x="587.95" y="704.6" width="2.00" height="14.2"/><rect x="592.05" y="710.7" width="2.50" height="8.1"/><rect x="594.05" y="700.0" width="1.80" height="18.8"/><rect x="595.35" y="649.0" width="4.70" height="69.8"/><rect x="599.55" y="698.0" width="4.10" height="20.8"/><rect x="603.15" y="705.7" width="3.50" height="13.1"/><rect x="606.15" y="700.1" width="2.50" height="18.7"/><rect x="608.15" y="707.7" width="3.60" height="11.1"/><rect x="611.25" y="708.7" width="2.50" height="10.1"/><rect x="613.25" y="714.5" width="3.00" height="4.3"/><rect x="615.75" y="712.2" width="2.60" height="6.6"/><rect x="617.85" y="654.0" width="1.90" height="64.8"/><rect x="620.35" y="706.2" width="2.50" height="12.6"/><rect x="622.35" y="705.2" width="2.50" height="13.6"/><rect x="624.35" y="712.7" width="2.60" height="6.1"/><rect x="626.45" y="714.0" width="4.00" height="4.8"/><rect x="630.95" y="707.2" width="2.00" height="11.6"/><rect x="634.45" y="711.7" width="4.60" height="7.1"/><rect x="640.25" y="692.5" width="1.60" height="26.3"/><rect x="641.55" y="703.1" width="4.10" height="15.7"/><rect x="645.15" y="710.7" width="3.50" height="8.1"/><rect x="648.15" y="675.9" width="3.50" height="42.9"/><rect x="650.65" y="662.2" width="2.50" height="56.6"/><rect x="652.65" y="682.4" width="2.00" height="36.4"/><rect x="655.75" y="661.7" width="3.00" height="57.1"/><rect x="658.25" y="674.3" width="2.00" height="44.5"/><rect x="659.75" y="694.5" width="1.80" height="24.3"/><rect x="661.05" y="714.0" width="3.00" height="4.8"/><rect x="663.55" y="709.7" width="1.50" height="9.1"/><rect x="664.55" y="659.7" width="1.70" height="59.1"/><rect x="665.75" y="640.0" width="3.80" height="78.8"/><rect x="669.05" y="699.2" width="2.00" height="19.6"/><rect x="670.55" y="636.0" width="6.50" height="82.8"/><rect x="676.55" y="706.4" width="1.70" height="12.4"/><rect x="677.75" y="640.0" width="4.70" height="78.8"/><rect x="681.95" y="708.8" width="1.70" height="10.0"/><rect x="683.15" y="650.0" width="2.80" height="68.8"/><rect x="685.45" y="711.0" width="1.40" height="7.8"/><rect x="686.35" y="645.0" width="2.60" height="73.8"/><rect x="688.45" y="697.0" width="2.30" height="21.8"/><rect x="690.25" y="705.0" width="2.30" height="13.8"/><rect x="695.35" y="708.7" width="1.90" height="10.1"/><rect x="697.35" y="703.6" width="2.50" height="15.2"/><rect x="699.35" y="696.6" width="1.50" height="22.2"/><rect x="702.85" y="681.4" width="2.00" height="37.4"/><rect x="706.45" y="712.7" width="3.50" height="6.1"/><rect x="711.95" y="696.1" width="2.00" height="22.7"/><rect x="722.05" y="691.5" width="1.50" height="27.3"/><rect x="727.65" y="714.2" width="4.00" height="4.6"/><rect x="753.45" y="656.2" width="3.00" height="62.6"/><rect x="883.05" y="693.1" width="2.10" height="25.7"/><rect x="889.15" y="671.4" width="1.50" height="47.4"/><rect x="891.75" y="711.9" width="4.00" height="6.9"/><rect x="895.25" y="702.2" width="2.50" height="16.6"/><rect x="897.25" y="708.8" width="4.00" height="10.0"/><rect x="903.35" y="705.8" width="1.50" height="13.0"/><rect x="913.45" y="704.8" width="1.80" height="14.0"/><rect x="914.75" y="704.3" width="1.60" height="14.5"/><rect x="917.05" y="707.7" width="2.70" height="11.1"/><rect x="926.05" y="694.7" width="1.50" height="24.1"/><rect x="945.15" y="666.3" width="1.30" height="52.5"/><rect x="946.55" y="689.0" width="2.20" height="29.8"/><rect x="948.75" y="694.7" width="2.80" height="24.1"/><rect x="960.15" y="694.1" width="2.70" height="24.7"/><rect x="965.25" y="710.5" width="3.90" height="8.3"/><rect x="972.65" y="708.3" width="3.90" height="10.5"/></g>
<path d="M100.2 718V628.0M104.4 718V652.4M133.8 718V684.5M151.2 718V367.5M175.6 718V660.9M184.0 718V647.6M239.6 718V636.0M253.4 718V683.1M257.2 718V624.2M258.9 718V640.8M268.7 718V631.0M291.4 718V677.0M295.6 718V632.8M306.2 718V684.2M315.4 718V644.4M317.1 718V628.8M324.2 718V637.6M328.2 718V674.9M336.4 718V424.0M360.8 718V678.9M366.4 718V682.4M374.8 718V639.0M380.0 718V624.0M388.9 718V461.0M392.4 718V590.5M396.0 718V651.6M401.8 718V641.0M410.7 718V382.5M413.4 718V634.0M435.6 718V669.3M443.2 718V686.7M460.4 718V447.2M463.4 718V636.0M473.3 718V647.6M485.1 718V679.9M512.2 718V614.3M525.1 718V650.6M580.6 718V651.1M587.2 718V601.0M590.9 718V619.2M596.6 718V439.0M619.4 718V611.0M633.0 718V639.4M640.0 718V614.3M655.4 718V644.0M666.9 718V632.7M668.6 718V647.6M671.6 718V627.7M673.8 718V632.7M675.3 718V620.5M680.5 718V634.0M681.5 718V615.5M685.2 718V646.0M687.5 718V584.2M694.7 718V692.5M701.3 718V604.7M702.1 718V140.0M705.6 718V629.0M711.0 718V653.6M723.2 718V667.3M726.4 718V612.5M733.2 718V641.0M747.3 718V645.8M753.2 718V634.2M764.0 718V631.0M782.8 718V654.1M808.6 718V697.4M828.5 718V699.7M835.6 718V645.9M841.0 718V707.7M844.7 718V711.0M853.3 718V620.8M864.4 718V693.6M876.8 718V699.2M882.3 718V683.5M890.6 718V592.5M902.3 718V685.5M906.3 718V645.9M927.7 718V647.7M932.0 718V642.0M938.2 718V638.1M941.9 718V687.9M946.5 718V564.0M964.3 718V582.4M977.1 718V610.7" stroke="#0072BD" stroke-width="2.2" fill="none"/>
</g>
<g fill="#FF3333"><circle cx="100.7" cy="627.8" r="5.55"/><circle cx="151.0" cy="591.0" r="5.55"/><circle cx="151.0" cy="607.7" r="5.55"/><circle cx="150.6" cy="367.1" r="5.55"/><circle cx="183.9" cy="647.6" r="5.55"/><circle cx="239.4" cy="636.0" r="5.55"/><circle cx="257.2" cy="624.2" r="5.55"/><circle cx="258.7" cy="640.8" r="5.55"/><circle cx="268.9" cy="631.0" r="5.55"/><circle cx="295.3" cy="632.8" r="5.55"/><circle cx="317.2" cy="628.8" r="5.55"/><circle cx="315.4" cy="644.4" r="5.55"/><circle cx="323.6" cy="637.6" r="5.55"/><circle cx="332.2" cy="649.4" r="5.55"/><circle cx="336.1" cy="601.1" r="5.55"/><circle cx="336.1" cy="616.1" r="5.55"/><circle cx="335.5" cy="423.7" r="5.55"/><circle cx="375.2" cy="639.1" r="5.55"/><circle cx="380.3" cy="624.0" r="5.55"/><circle cx="388.6" cy="460.6" r="5.55"/><circle cx="388.8" cy="627.1" r="5.55"/><circle cx="388.8" cy="630.8" r="5.55"/><circle cx="392.2" cy="590.5" r="5.55"/><circle cx="392.2" cy="642.6" r="5.55"/><circle cx="402.2" cy="641.0" r="5.55"/><circle cx="410.4" cy="382.2" r="5.55"/><circle cx="410.5" cy="602.7" r="5.55"/><circle cx="410.5" cy="604.2" r="5.55"/><circle cx="413.8" cy="634.3" r="5.55"/><circle cx="460.4" cy="446.9" r="5.55"/><circle cx="460.4" cy="617.2" r="5.55"/><circle cx="460.4" cy="624.2" r="5.55"/><circle cx="463.6" cy="636.0" r="5.55"/><circle cx="473.5" cy="647.6" r="5.55"/><circle cx="512.1" cy="614.3" r="5.55"/><circle cx="586.9" cy="601.0" r="5.55"/><circle cx="590.1" cy="619.2" r="5.55"/><circle cx="598.5" cy="644.0" r="5.55"/><circle cx="596.9" cy="438.8" r="5.55"/><circle cx="596.9" cy="469.1" r="5.55"/><circle cx="620.2" cy="611.0" r="5.55"/><circle cx="618.7" cy="639.4" r="5.55"/><circle cx="633.6" cy="639.4" r="5.55"/><circle cx="641.1" cy="614.1" r="5.55"/><circle cx="655.3" cy="644.1" r="5.55"/><circle cx="666.9" cy="632.7" r="5.55"/><circle cx="668.6" cy="647.6" r="5.55"/><circle cx="671.6" cy="627.7" r="5.55"/><circle cx="673.8" cy="632.7" r="5.55"/><circle cx="675.3" cy="620.5" r="5.55"/><circle cx="680.5" cy="634.1" r="5.55"/><circle cx="682.1" cy="615.5" r="5.55"/><circle cx="685.2" cy="646.0" r="5.55"/><circle cx="686.8" cy="584.2" r="5.55"/><circle cx="702.0" cy="139.7" r="5.55"/><circle cx="701.8" cy="509.1" r="5.55"/><circle cx="701.8" cy="519.3" r="5.55"/><circle cx="705.2" cy="629.1" r="5.55"/><circle cx="705.2" cy="645.8" r="5.55"/><circle cx="726.8" cy="612.5" r="5.55"/><circle cx="733.5" cy="641.0" r="5.55"/><circle cx="746.7" cy="645.8" r="5.55"/><circle cx="753.2" cy="634.2" r="5.55"/><circle cx="763.3" cy="631.0" r="5.55"/><circle cx="835.3" cy="645.9" r="5.55"/><circle cx="853.6" cy="620.8" r="5.55"/><circle cx="890.1" cy="592.5" r="5.55"/><circle cx="906.5" cy="645.9" r="5.55"/><circle cx="928.0" cy="647.6" r="5.55"/><circle cx="931.0" cy="642.5" r="5.55"/><circle cx="933.5" cy="640.5" r="5.55"/><circle cx="938.6" cy="637.6" r="5.55"/><circle cx="946.7" cy="564.0" r="5.55"/><circle cx="964.9" cy="582.4" r="5.55"/></g>
<polygon points="580.40,244.50 582.85,252.03 590.77,252.03 584.36,256.69 586.81,264.22 580.40,259.56 573.99,264.22 576.44,256.69 570.03,252.03 577.95,252.03" fill="none" stroke="#FF0000" stroke-width="2.1" stroke-linejoin="round"/>
<polygon points="601.95,264.84999999999997 608.75,273.4 601.95,281.95 595.1500000000001,273.4" fill="none" stroke="#FF5000" stroke-width="1.9" stroke-linejoin="round"/>
<path d="M580.0 259.3L576.0 716.5" stroke="#3a3a3a" stroke-width="1.8" stroke-dasharray="16.3 10.43" fill="none"/>
<path d="M602.2 280.2L601.6 710.5" stroke="#3a3a3a" stroke-width="1.8" stroke-dasharray="16.3 10.43" fill="none"/>
<text transform="translate(545.40 267.70) scale(1 1.045)" font-size="26.6">A</text>
<text transform="translate(615.70 288.70) scale(1 1.045)" font-size="26.6">B</text>
<text transform="translate(727.10 160.30) scale(1 1.045)" font-size="26.6">C</text>
<text transform="translate(87.40 729.20) scale(1 1.045)" font-size="26.6" text-anchor="end" fill="#262626">0</text>
<text transform="translate(87.40 613.38) scale(1 1.045)" font-size="26.6" text-anchor="end" fill="#262626">0.2</text>
<text transform="translate(87.40 497.57) scale(1 1.045)" font-size="26.6" text-anchor="end" fill="#262626">0.4</text>
<text transform="translate(87.40 381.75) scale(1 1.045)" font-size="26.6" text-anchor="end" fill="#262626">0.6</text>
<text transform="translate(87.40 265.93) scale(1 1.045)" font-size="26.6" text-anchor="end" fill="#262626">0.8</text>
<text transform="translate(87.40 150.12) scale(1 1.045)" font-size="26.6" text-anchor="end" fill="#262626">1</text>
<text transform="translate(87.40 34.30) scale(1 1.045)" font-size="26.6" text-anchor="end" fill="#262626">1.2</text>
<text transform="translate(97.55 756.50) scale(1 1.045)" font-size="26.6" text-anchor="middle" fill="#262626">-0.075</text>
<text transform="translate(207.50 756.50) scale(1 1.045)" font-size="26.6" text-anchor="middle" fill="#262626">-0.07</text>
<text transform="translate(317.45 756.50) scale(1 1.045)" font-size="26.6" text-anchor="middle" fill="#262626">-0.065</text>
<text transform="translate(427.40 756.50) scale(1 1.045)" font-size="26.6" text-anchor="middle" fill="#262626">-0.06</text>
<text transform="translate(537.35 756.50) scale(1 1.045)" font-size="26.6" text-anchor="middle" fill="#262626">-0.055</text>
<text transform="translate(647.30 756.50) scale(1 1.045)" font-size="26.6" text-anchor="middle" fill="#262626">-0.05</text>
<text transform="translate(757.25 756.50) scale(1 1.045)" font-size="26.6" text-anchor="middle" fill="#262626">-0.045</text>
<text transform="translate(867.20 756.50) scale(1 1.045)" font-size="26.6" text-anchor="middle" fill="#262626">-0.04</text>
<text transform="translate(977.15 756.50) scale(1 1.045)" font-size="26.6" text-anchor="middle" fill="#262626">-0.035</text>
<text transform="translate(537.00 799.00) scale(1 1.02)" font-size="31.5" text-anchor="middle" fill="#262626">t/s</text>
<text transform="translate(35.70 370.50) rotate(-90) scale(1 1.02)" font-size="31.5" text-anchor="middle" fill="#262626">Rxy</text>
<rect x="110" y="50.7" width="491.2" height="153.6" fill="#fff" stroke="#202020" stroke-width="2"/>
<path d="M122.9 72.5H189.6" stroke="#0072BD" stroke-width="2.2"/>
<circle cx="157.3" cy="109.7" r="5.4" fill="#FF3333"/>
<polygon points="157.10,134.60 159.41,141.72 166.90,141.72 160.84,146.12 163.15,153.23 157.10,148.83 151.05,153.23 153.36,146.12 147.30,141.72 154.79,141.72" fill="none" stroke="#FF0000" stroke-width="2.1" stroke-linejoin="round"/>
<polygon points="157.3,173.1 163.85000000000002,181.6 157.3,190.1 150.75,181.6" fill="none" stroke="#FF5000" stroke-width="1.9" stroke-linejoin="round"/>
<text transform="translate(196.20 83.40)" font-size="26.75">Correlation function</text>
<text transform="translate(196.20 119.80)" font-size="26.75">Correlation peak</text>
<text transform="translate(196.20 156.20)" font-size="26.75">The truth value of TDOA</text>
<text transform="translate(196.20 192.60)" font-size="26.75">TDOA of SINS-assisted algorithm</text>
</svg></body></html>
